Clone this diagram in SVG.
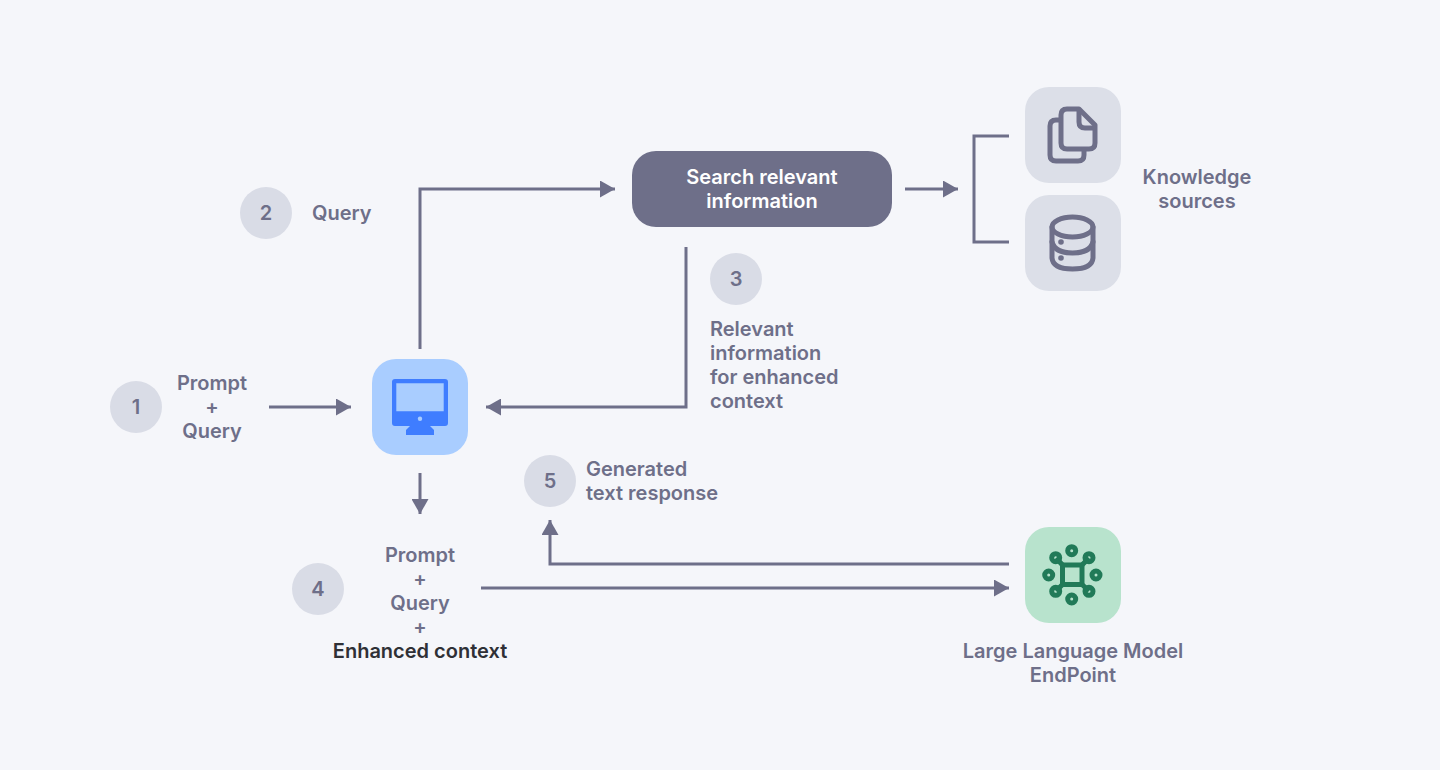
<svg xmlns="http://www.w3.org/2000/svg" width="1440" height="770" viewBox="0 0 1440 770">
<style>
text{font-family:Inter,"Liberation Sans",sans-serif;font-size:20px;font-weight:600;fill:#6e6f89;text-anchor:middle}
.l{text-anchor:start}
.c{fill:#d9dce6}
.k{fill:none;stroke:#6e6f89;stroke-width:3}
.i{fill:none;stroke:#6e6f89;stroke-width:5;stroke-linejoin:round;stroke-linecap:round}
.g{fill:none;stroke:#217a58;stroke-width:5}
.a{fill:#6e6f89}
</style>
<defs>
<marker id="ah" markerUnits="userSpaceOnUse" markerWidth="15" markerHeight="17" refX="15" refY="8.5" orient="auto"><path class="a" d="M0 0L15 8.5L0 17Z"/></marker>
</defs>
<rect width="1440" height="770" fill="#f5f6fa"/>
<g id="connectors">
<path class="k" marker-end="url(#ah)" d="M269 407H351"/>
<path class="k" marker-end="url(#ah)" d="M420 349V189H615"/>
<path class="k" marker-end="url(#ah)" d="M905 189H958"/>
<path class="k" d="M1009 136H974V242H1009"/>
<path class="k" marker-end="url(#ah)" d="M686 247V407H486"/>
<path class="k" marker-end="url(#ah)" d="M420 473V514"/>
<path class="k" marker-end="url(#ah)" d="M481 588H1009"/>
<path class="k" marker-end="url(#ah)" d="M1009 564H550V520"/>
</g>
<g id="step1"><circle class="c" cx="136" cy="407" r="26"/><text x="136" y="414">1</text><text x="212" y="390">Prompt</text><text x="212" y="414">+</text><text x="212" y="438">Query</text></g>
<g id="step2"><circle class="c" cx="266" cy="213" r="26"/><text x="266" y="220">2</text><text class="l" x="312" y="220">Query</text></g>
<g id="step3"><circle class="c" cx="736" cy="279" r="26"/><text x="736" y="286">3</text><text class="l" x="710" y="336">Relevant</text><text class="l" x="710" y="360">information</text><text class="l" x="710" y="384">for enhanced</text><text class="l" x="710" y="408">context</text></g>
<g id="step4"><circle class="c" cx="318" cy="589" r="26"/><text x="318" y="596">4</text><text x="420" y="562">Prompt</text><text x="420" y="586">+</text><text x="420" y="610">Query</text><text x="420" y="634">+</text><text x="420" y="658" style="fill:#2f3036">Enhanced context</text></g>
<g id="step5"><circle class="c" cx="550" cy="481" r="26"/><text x="550" y="488">5</text><text class="l" x="586" y="476">Generated</text><text class="l" x="586" y="500">text response</text></g>
<g id="search"><rect x="632" y="151" width="260" height="76" rx="24" fill="#6e6f89"/><text x="762" y="184" style="fill:#fff">Search relevant</text><text x="762" y="208" style="fill:#fff">information</text></g>
<g id="documents"><rect x="1025" y="87" width="96" height="96" rx="24" fill="#dcdfe8"/>
<path class="i" d="M1079 109H1067Q1061 109 1061 115V143Q1061 149 1067 149H1089Q1095 149 1095 143V125Z"/>
<path class="i" d="M1060 120H1056Q1050 120 1050 126V155Q1050 161 1056 161H1078Q1084 161 1084 155V150"/>
<path class="i" d="M1079 110V122Q1079 128 1085 128H1094"/>
</g>
<g id="database"><rect x="1025" y="195" width="96" height="96" rx="24" fill="#dcdfe8"/>
<ellipse class="i" cx="1072.500" cy="227" rx="20.500" ry="10"/>
<path class="i" d="M1052 227V258Q1053 269 1072.500 269Q1092 269 1093 258V227"/>
<path class="i" d="M1052 242Q1055 253 1072.500 253Q1090 253 1093 242"/>
<circle class="a" cx="1061" cy="242" r="2.800"/><circle class="a" cx="1061" cy="258" r="2.800"/>
</g>
<text x="1197" y="184">Knowledge</text><text x="1197" y="208">sources</text>
<g id="computer"><rect x="372" y="359" width="96" height="96" rx="24" fill="#a9cdff"/>
<path fill="#3f7dff" fill-rule="evenodd" d="M395 379H445Q448 379 448 382V423Q448 426 445 426H430L434 430V435H406V430L410 426H395Q392 426 392 423V382Q392 379 395 379ZM396.300 383.300V411.300H443.700V383.300Z"/>
<circle cx="420" cy="418.700" r="2.200" fill="#a9cdff"/>
</g>
<g id="llm"><rect x="1025" y="527" width="96" height="96" rx="24" fill="#b8e3cd"/>
<rect class="g" x="1062.500" y="565" width="19.500" height="19.500"/>
<path class="g" d="M1062.500 565L1056 558M1082 565L1089 558M1062.500 584.500L1056 591M1082 584.500L1089 591"/>
<circle class="g" cx="1071.700" cy="550.700" r="4"/><circle class="g" cx="1071.700" cy="599" r="4"/><circle class="g" cx="1048.700" cy="575" r="4"/><circle class="g" cx="1096" cy="575" r="4"/><circle class="g" cx="1055.700" cy="557.700" r="4"/><circle class="g" cx="1089" cy="557.700" r="4"/><circle class="g" cx="1055.700" cy="591.300" r="4"/><circle class="g" cx="1089" cy="591.300" r="4"/>
</g>
<text x="1073" y="658">Large Language Model</text><text x="1073" y="682">EndPoint</text>
</svg>
